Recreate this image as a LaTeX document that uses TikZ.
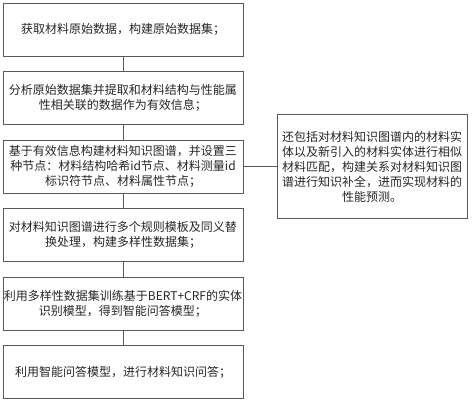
\documentclass[tikz,border=0pt]{standalone}
\usepackage{fontspec}
\newfontfamily\cjk{Noto Sans CJK SC}
\usepackage{tikz}
\tikzset{%
  procbox/.style = {shape=rectangle, draw=black!65, line width=0.9pt,%
                    align=center, inner sep=0pt, text=black!85,%
                    minimum width=240pt, minimum height=53pt,%
                    font=\cjk\fontsize{12}{15}\selectfont},%
  notebox/.style = {procbox, minimum width=190pt, minimum height=104pt},%
  link/.style    = {draw=black!65, line width=0.9pt}%
}
\begin{document}
\begin{tikzpicture}[x=1pt,y=-1pt]
		\useasboundingbox (0,0) rectangle (474,402);
		\node [procbox] (get) at (123,29.5) {获取材料原始数据，构建原始数据集；};
		\node [procbox] (ana) at (123,98) {分析原始数据集并提取和材料结构与性能属\\性相关联的数据作为有效信息；};
		\node [procbox] (kg) at (123,166.5) {基于有效信息构建材料知识图谱，并设置三\\种节点：材料结构哈希id节点、材料测量id\\标识符节点、材料属性节点；};
		\node [procbox] (aug) at (123,235) {对材料知识图谱进行多个规则模板及同义替\\换处理，构建多样性数据集；};
		\node [procbox] (ner) at (123,303.5) {利用多样性数据集训练基于BERT+CRF的实体\\识别模型，得到智能问答模型；};
		\node [procbox] (qa) at (123,372) {利用智能问答模型，进行材料知识问答；};
		\node [notebox] (pred) at (372,166.5) {还包括对材料知识图谱内的材料实\\体以及新引入的材料实体进行相似\\材料匹配，构建关系对材料知识图\\谱进行知识补全，进而实现材料的\\性能预测。};
		% connectors
		\foreach \a/\b in {get/ana, ana/kg, kg/aug, aug/ner, ner/qa}
			\draw [link] (\a) -- (\b);
		\draw [link] (kg) -- (pred);
\end{tikzpicture}
\end{document}
